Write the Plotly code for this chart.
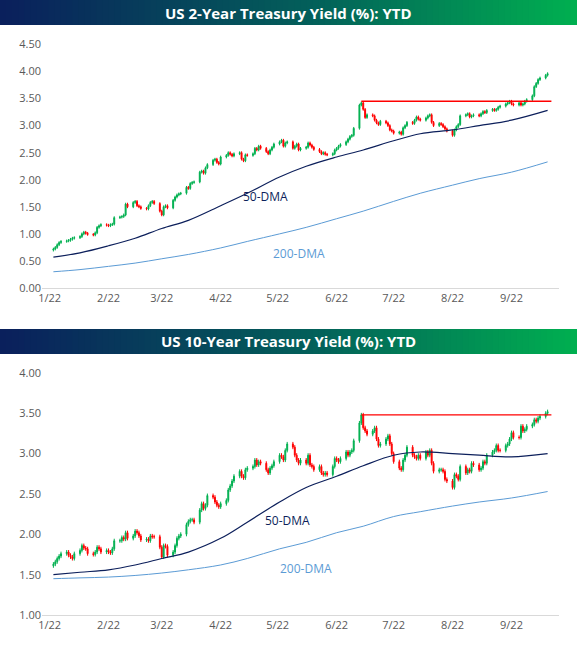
import pandas as pd
import plotly.graph_objects as go
from plotly.subplots import make_subplots

# daily closes, Jan 3 2022 onward (business days)
close_2y = [
    0.72, 0.75, 0.80, 0.84, 0.86, 0.87, 0.88, 0.90, 0.92, 0.93,
    0.95, 1.00, 1.03, 1.01, 0.99, 0.98, 1.02, 1.12, 1.15, 1.17,
    1.16, 1.15, 1.17, 1.18, 1.30, 1.31, 1.32, 1.35, 1.55, 1.50,
    1.58, 1.60, 1.52, 1.50, 1.47, 1.46, 1.52, 1.58, 1.60, 1.56,
    1.42, 1.35, 1.50, 1.52, 1.48, 1.62, 1.68, 1.72, 1.74, 1.75,
    1.86, 1.84, 1.93, 1.95, 1.96, 2.14, 2.16, 2.12, 2.22, 2.28,
    2.36, 2.38, 2.32, 2.29, 2.42, 2.45, 2.50, 2.47, 2.44, 2.48,
    2.50, 2.38, 2.35, 2.46, 2.45, 2.48, 2.58, 2.55, 2.62, 2.58,
    2.52, 2.48, 2.55, 2.60, 2.66, 2.70, 2.73, 2.62, 2.68, 2.70,
    2.58, 2.62, 2.66, 2.55, 2.58, 2.60, 2.68, 2.64, 2.60, 2.56,
    2.52, 2.48, 2.50, 2.47, 2.46, 2.48, 2.55, 2.58, 2.62, 2.65,
    2.70, 2.75, 2.80, 2.82, 2.95, 3.38, 3.42, 3.30, 3.15, 3.20,
    3.18, 3.10, 3.05, 3.02, 3.08, 3.05, 3.00, 2.92, 2.90, 2.86,
    2.88, 2.84, 2.96, 3.00, 3.06, 3.04, 3.10, 3.16, 3.12, 3.10,
    3.14, 3.18, 3.20, 3.06, 3.00, 3.04, 3.02, 2.98, 2.94, 2.90,
    2.82, 2.92, 2.98, 3.02, 3.18, 3.20, 3.22, 3.16, 3.18, 3.20,
    3.18, 3.22, 3.26, 3.24, 3.28, 3.30, 3.28, 3.30, 3.34, 3.36,
    3.40, 3.42, 3.45, 3.40, 3.38, 3.42, 3.38, 3.40, 3.45, 3.48,
    3.55, 3.72, 3.78, 3.85, 3.88, 3.93, 3.96,
]
close_10y = [
    1.63, 1.66, 1.70, 1.73, 1.76, 1.78, 1.74, 1.72, 1.70, 1.76,
    1.80, 1.86, 1.83, 1.82, 1.76, 1.75, 1.78, 1.84, 1.82, 1.78,
    1.80, 1.78, 1.77, 1.82, 1.92, 1.92, 1.96, 1.94, 2.02, 1.95,
    1.98, 2.04, 2.02, 1.98, 1.93, 1.94, 1.92, 1.98, 1.97, 1.97,
    1.84, 1.72, 1.86, 1.85, 1.74, 1.78, 1.86, 1.95, 1.98, 2.00,
    2.12, 2.16, 2.18, 2.18, 2.15, 2.30, 2.38, 2.32, 2.36, 2.48,
    2.46, 2.40, 2.36, 2.34, 2.38, 2.42, 2.55, 2.60, 2.66, 2.72,
    2.78, 2.72, 2.70, 2.80, 2.82, 2.84, 2.92, 2.86, 2.90, 2.88,
    2.80, 2.76, 2.82, 2.85, 2.90, 2.98, 2.96, 2.92, 3.04, 3.12,
    3.08, 2.98, 2.92, 2.88, 2.92, 2.88, 2.98, 2.86, 2.84, 2.80,
    2.84, 2.76, 2.74, 2.76, 2.74, 2.84, 2.94, 2.92, 2.90, 2.94,
    3.02, 2.98, 3.02, 3.04, 3.16, 3.38, 3.48, 3.32, 3.28, 3.24,
    3.28, 3.32, 3.18, 3.10, 3.12, 3.18, 3.22, 3.12, 3.00, 2.90,
    2.82, 2.80, 2.92, 2.98, 3.08, 2.98, 2.96, 2.94, 2.98, 2.94,
    3.02, 2.98, 3.04, 2.88, 2.78, 2.80, 2.80, 2.78, 2.68, 2.66,
    2.58, 2.74, 2.72, 2.68, 2.84, 2.76, 2.80, 2.78, 2.88, 2.86,
    2.80, 2.82, 2.90, 2.88, 2.98, 3.02, 3.04, 3.10, 3.04, 3.04,
    3.10, 3.12, 3.18, 3.26, 3.20, 3.20, 3.34, 3.28, 3.30, 3.34,
    3.36, 3.42, 3.40, 3.44, 3.46, 3.50, 3.52,
]

dma_dates = ["2022-01-03", "2022-01-17", "2022-02-01", "2022-02-15", "2022-03-01",
             "2022-03-15", "2022-04-01", "2022-04-15", "2022-05-02", "2022-05-16",
             "2022-06-01", "2022-06-15", "2022-07-01", "2022-07-15", "2022-08-01",
             "2022-08-15", "2022-09-01", "2022-09-20"]
dma50_2y = [0.57, 0.65, 0.78, 0.92, 1.10, 1.25, 1.52, 1.75, 2.05, 2.25,
            2.42, 2.55, 2.72, 2.85, 2.92, 3.00, 3.10, 3.28]
dma200_2y = [0.30, 0.34, 0.40, 0.46, 0.54, 0.62, 0.74, 0.86, 1.00, 1.12,
             1.28, 1.42, 1.60, 1.75, 1.90, 2.02, 2.14, 2.33]
dma50_10y = [1.50, 1.53, 1.56, 1.62, 1.70, 1.78, 1.95, 2.15, 2.40, 2.58,
             2.72, 2.85, 2.98, 3.02, 3.00, 2.98, 2.96, 3.00]
dma200_10y = [1.45, 1.46, 1.47, 1.49, 1.52, 1.56, 1.62, 1.70, 1.82, 1.90,
              2.02, 2.10, 2.22, 2.28, 2.35, 2.40, 2.45, 2.53]

resist_dates = ["2022-06-14", "2022-09-22"]
resist_2y = 3.45
resist_10y = 3.48

month_ticks = ["2022-01-01", "2022-02-01", "2022-03-01", "2022-04-01", "2022-05-01",
               "2022-06-01", "2022-07-01", "2022-08-01", "2022-09-01"]
month_labels = ["1/22", "2/22", "3/22", "4/22", "5/22", "6/22", "7/22", "8/22", "9/22"]

GREEN, RED = "#00b050", "#ff0000"
W, H = 577, 650


def ohlc(closes):
    opens = [closes[0] - 0.02] + closes[:-1]
    highs = [max(o, c) + 0.025 for o, c in zip(opens, closes)]
    lows = [min(o, c) - 0.025 for o, c in zip(opens, closes)]
    return opens, highs, lows


def mix(c1, c2, t):
    return "rgb(%d,%d,%d)" % tuple(round(a + (b - a) * t) for a, b in zip(c1, c2))


fig = make_subplots(rows=2, cols=1)
dates = pd.bdate_range("2022-01-03", periods=len(close_2y))

for row, closes, d50, d200, lvl in [(1, close_2y, dma50_2y, dma200_2y, resist_2y),
                                     (2, close_10y, dma50_10y, dma200_10y, resist_10y)]:
    o, h, l = ohlc(closes)
    fig.add_trace(go.Candlestick(
        x=dates, open=o, high=h, low=l, close=closes, whiskerwidth=0,
        increasing=dict(line=dict(color=GREEN, width=1), fillcolor=GREEN),
        decreasing=dict(line=dict(color=RED, width=1), fillcolor=RED),
    ), row=row, col=1)
    fig.add_trace(go.Scatter(x=pd.to_datetime(dma_dates), y=d50, mode="lines",
                             line=dict(color="#0c1f5b", width=1.2, shape="spline")), row=row, col=1)
    fig.add_trace(go.Scatter(x=pd.to_datetime(dma_dates), y=d200, mode="lines",
                             line=dict(color="#5b9bd5", width=1, shape="spline")), row=row, col=1)
    fig.add_trace(go.Scatter(x=pd.to_datetime(resist_dates), y=[lvl, lvl], mode="lines",
                             line=dict(color=RED, width=1.3)), row=row, col=1)

# gradient header bars built from thin strips
stops = [(0.0, (10, 31, 92)), (0.55, (3, 97, 90)), (1.0, (0, 176, 80))]
n = 96
titles = ["US 2-Year Treasury Yield (%): YTD", "US 10-Year Treasury Yield (%): YTD"]
for top, title in [(0, titles[0]), (329, titles[1])]:
    for i in range(n):
        t = (i + 0.5) / n
        c = mix(stops[0][1], stops[1][1], t / 0.55) if t < 0.55 else \
            mix(stops[1][1], stops[2][1], (t - 0.55) / 0.45)
        fig.add_shape(type="rect", xref="paper", yref="paper", x0=i / n, x1=min(1, (i + 1.6) / n),
                      y0=1 - (top + 25) / H, y1=1 - top / H, fillcolor=c,
                      line=dict(width=0), layer="below")
    fig.add_annotation(text="<b>" + title + "</b>", xref="paper", yref="paper",
                       x=0.5, y=1 - (top + 12.5) / H, showarrow=False,
                       xanchor="center", yanchor="middle",
                       font=dict(color="white", size=15, family="Open Sans"))

labels = [("50-DMA", 265, 196, "#0c1f5b"), ("200-DMA", 299, 253, "#5b9bd5"),
          ("50-DMA", 287, 520, "#0c1f5b"), ("200-DMA", 306, 568, "#5b9bd5")]
for txt, px_, py_, col in labels:
    fig.add_annotation(text=txt, xref="paper", yref="paper", x=px_ / W, y=1 - py_ / H,
                       showarrow=False, xanchor="center", yanchor="middle",
                       font=dict(color=col, size=12, family="Open Sans"))

xdom = [42 / W, 559 / W]
xrange = ["2021-12-28", "2022-09-26"]
axfont = dict(color="#595959", size=11, family="Open Sans")
fig.update_xaxes(domain=xdom, range=xrange, tickvals=pd.to_datetime(month_ticks),
                 ticktext=month_labels, showgrid=False, rangeslider_visible=False,
                 showline=True, linecolor="#d9d9d9", ticks="", tickfont=axfont,
                 automargin=False)
fig.update_yaxes(showgrid=False, zeroline=False, tickformat=".2f", tickfont=axfont, ticks="",
                 automargin=False)
fig.update_yaxes(row=1, col=1, range=[0, 4.6], dtick=0.5, domain=[1 - 288 / H, 1 - 39 / H])
fig.update_yaxes(row=2, col=1, range=[1, 4.16], dtick=0.5, domain=[1 - 615 / H, 1 - 360 / H])

fig.update_layout(width=W, height=H, margin=dict(l=0, r=0, t=0, b=0),
                  plot_bgcolor="rgba(0,0,0,0)", paper_bgcolor="white", showlegend=False)
fig.write_html("out.html", config={"displayModeBar": False},
               post_script="document.body.style.margin='0';")
